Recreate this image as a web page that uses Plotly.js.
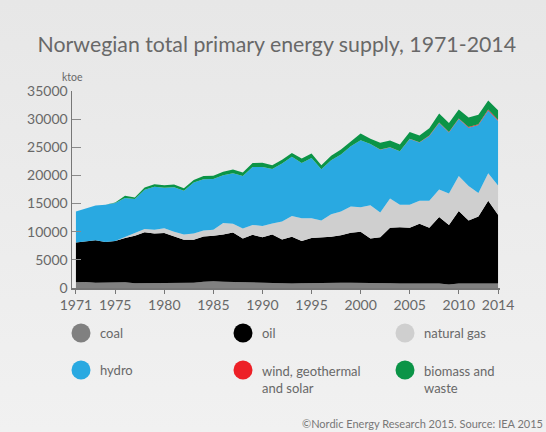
<!DOCTYPE html>
<html>
<head>
<meta charset="utf-8">
<script src="https://cdn.plot.ly/plotly-3.0.1.min.js"></script>
<style>
  html, body { margin: 0; padding: 0; }
  body { width: 546px; height: 432px; background: linear-gradient(#e7e7e7, #f1f1f1); }
  #chart { width: 546px; height: 432px; }
</style>
</head>
<body>
<div id="chart"></div>
<script>
// ktoe
const years = [1971, 1972, 1973, 1974, 1975, 1976, 1977, 1978, 1979, 1980,
    1981, 1982, 1983, 1984, 1985, 1986, 1987, 1988, 1989, 1990,
    1991, 1992, 1993, 1994, 1995, 1996, 1997, 1998, 1999, 2000,
    2001, 2002, 2003, 2004, 2005, 2006, 2007, 2008, 2009, 2010,
    2011, 2012, 2013, 2014];

const coal = [1000, 1050, 950, 1000, 1000, 1000, 850, 850, 950, 950,
    950, 950, 950, 1100, 1200, 1100, 1050, 1000, 950, 900,
    850, 800, 800, 850, 900, 900, 950, 950, 950, 950,
    900, 850, 850, 800, 800, 750, 800, 800, 600, 800,
    800, 800, 750, 800];

const oil = [7100, 7290, 7550, 7160, 7340, 7870, 8450, 9050, 8750, 8810,
    8250, 7620, 7620, 8070, 8100, 8400, 8800, 7800, 8500, 8100,
    8650, 7800, 8300, 7500, 8000, 8100, 8150, 8400, 8850, 9050,
    7900, 8150, 9850, 10000, 9900, 10650, 9900, 11800, 10600, 12900,
    11200, 11900, 14750, 12200];

const naturalGas = [0, 0, 0, 0, 0, 180, 450, 600, 650, 840,
    800, 950, 1130, 1030, 1060, 2050, 1550, 1750, 1750, 2000,
    1950, 3200, 3700, 4050, 3500, 3000, 4000, 4250, 4700, 4350,
    5900, 4400, 5200, 4000, 4100, 4100, 4800, 4900, 5600, 6200,
    6100, 4200, 4900, 5200];

const hydro = [5500, 5730, 6170, 6640, 6760, 6950, 6050, 6950, 7630, 7200,
    7900, 7780, 9050, 9100, 8990, 8500, 9000, 9350, 10300, 10500,
    9700, 10300, 10500, 9800, 10700, 9100, 9600, 10100, 10700, 11900,
    10900, 11180, 9070, 9480, 11660, 10340, 11520, 11820, 10820, 10120,
    10390, 12060, 11140, 11510];

const windGeoSolar = [0, 0, 0, 0, 0, 0, 0, 0, 0, 0,
    0, 0, 0, 0, 0, 0, 0, 0, 0, 0,
    0, 0, 0, 0, 0, 0, 0, 0, 0, 0,
    0, 20, 30, 20, 40, 60, 80, 80, 80, 80,
    110, 140, 160, 190];

const biomass = [0, 0, 0, 0, 100, 400, 300, 410, 470, 470,
    500, 400, 450, 600, 600, 600, 650, 600, 700, 750,
    650, 700, 700, 800, 800, 700, 800, 900, 800, 1200,
    900, 1200, 1200, 1200, 1200, 1200, 1300, 1600, 1600, 1600,
    1700, 1700, 1600, 1700];

const yearTicks = [1971, 1975, 1980, 1985, 1990, 1995, 2000, 2005, 2010, 2014];
const yTicks = [0, 5000, 10000, 15000, 20000, 25000, 30000, 35000];

const seriesNames = ['coal', 'oil', 'natural gas', 'hydro', 'wind, geothermal<br>and solar', 'biomass and<br>waste'];
const seriesValues = [coal, oil, naturalGas, hydro, windGeoSolar, biomass];
const seriesColors = ['#808080', '#000000', '#cfcfcf', '#29a9e1', '#ed2027', '#0b9447'];

const font = 'Lato, "Open Sans", sans-serif';
const textGrey = '#686868';

// plot box in pixels (used to place the hand-made legend)
const box = {l: 72, r: 500, t: 91, b: 288};
const px = (x) => (x - box.l) / (box.r - box.l);
const py = (y) => (box.b - y) / (box.b - box.t);

const traces = seriesValues.map((vals, i) => ({
    type: 'scatter',
    mode: 'lines',
    x: years,
    y: vals,
    stackgroup: 'one',
    name: seriesNames[i],
    fillcolor: seriesColors[i],
    line: {width: 0, color: seriesColors[i]},
    showlegend: false,
    hoverinfo: 'skip',
}));

// legend: 3 columns x 2 rows of dots
const legendCols = [81, 243, 405];
const legendRows = [333, 370];
const shapes = [];
const annotations = [];
seriesNames.forEach((name, i) => {
    const cx = legendCols[i % 3];
    const cy = legendRows[Math.floor(i / 3)];
    const r = 9.5;
    shapes.push({
        type: 'circle',
        xref: 'paper', yref: 'paper',
        x0: px(cx - r), x1: px(cx + r),
        y0: py(cy + r), y1: py(cy - r),
        fillcolor: seriesColors[i],
        line: {width: 0},
    });
    const twoLines = name.indexOf('<br>') >= 0;
    annotations.push({
        xref: 'paper', yref: 'paper',
        x: px(cx + 17), y: py(twoLines ? cy - 9 : cy),
        xanchor: 'left', yanchor: twoLines ? 'top' : 'middle',
        align: 'left',
        text: name,
        showarrow: false,
        font: {family: font, size: 13, color: textGrey},
    });
});

annotations.push({
    xref: 'paper', yref: 'paper',
    x: px(72), y: py(77),
    xanchor: 'center', yanchor: 'middle',
    text: 'ktoe', showarrow: false,
    font: {family: font, size: 10.5, color: textGrey},
});
annotations.push({
    xref: 'paper', yref: 'paper',
    x: px(545), y: py(423),
    xanchor: 'right', yanchor: 'middle',
    text: '©Nordic Energy Research 2015. Source: IEA 2015', showarrow: false,
    font: {family: font, size: 11, color: '#777777'},
});

const layout = {
    width: 546,
    height: 432,
    paper_bgcolor: 'rgba(0,0,0,0)',
    plot_bgcolor: 'rgba(0,0,0,0)',
    margin: {l: box.l, r: 546 - box.r, t: box.t, b: 432 - box.b, pad: 0},
    title: {
        text: 'Norwegian total primary energy supply, 1971-2014',
        font: {family: font, size: 21.3, color: textGrey},
        xref: 'container', x: 0.507, xanchor: 'center',
        yref: 'container', y: 1 - 45 / 432, yanchor: 'middle',
    },
    xaxis: {
        range: [1970.6, 2014.2],
        tickvals: yearTicks,
        ticktext: yearTicks.map(String),
        ticks: 'outside',
        ticklen: 4,
        tickcolor: '#777777',
        showline: true,
        linecolor: '#777777',
        linewidth: 1.5,
        showgrid: false,
        zeroline: false,
        tickfont: {family: font, size: 14, color: textGrey},
        fixedrange: true,
    },
    yaxis: {
        range: [0, 35000],
        tickvals: yTicks,
        ticktext: yTicks.map(String),
        ticks: 'inside',
        ticklen: 9,
        tickcolor: '#8a8a8a',
        showline: true,
        linecolor: '#777777',
        linewidth: 1.5,
        showgrid: false,
        zeroline: false,
        tickfont: {family: font, size: 14, color: textGrey},
        fixedrange: true,
    },
    shapes: shapes,
    annotations: annotations,
    showlegend: false,
};

Plotly.newPlot('chart', traces, layout, {displayModeBar: false, staticPlot: true});
</script>
</body>
</html>
